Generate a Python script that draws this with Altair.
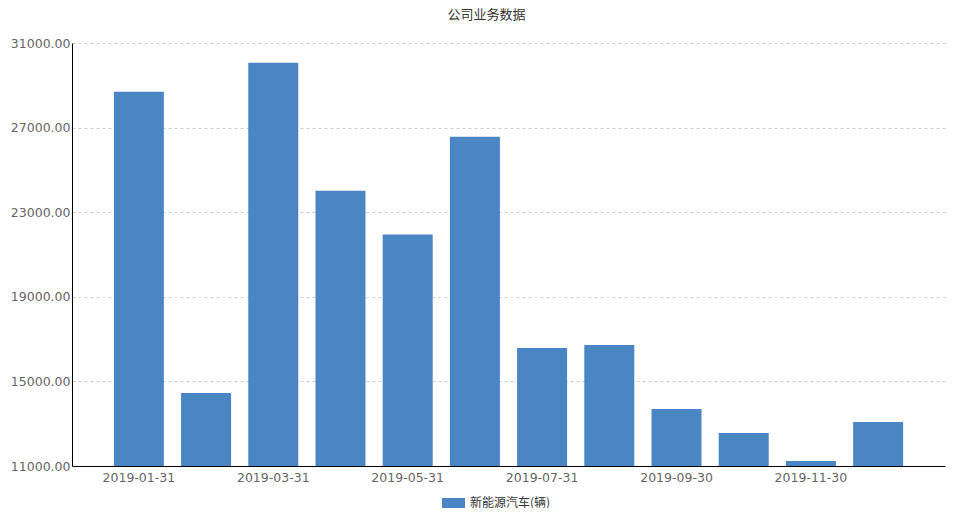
import altair as alt
import pandas as pd

months = ["2019-01-31", "2019-02-28", "2019-03-31", "2019-04-30", "2019-05-31", "2019-06-30",
          "2019-07-31", "2019-08-31", "2019-09-30", "2019-10-31", "2019-11-30", "2019-12-31"]
values = [28700, 14450, 30070, 24020, 21940, 26570, 16580, 16720, 13700, 12560, 11240, 13080]
series_name = "新能源汽车(辆)"
shown_labels = ["2019-01-31", "2019-03-31", "2019-05-31", "2019-07-31", "2019-09-30", "2019-11-30"]
y_ticks = [11000, 15000, 19000, 23000, 27000, 31000]

df = pd.DataFrame({"date": months, "value": values, "series": [series_name] * len(months)})

chart = alt.Chart(df).mark_bar(color="#4a86c4").encode(
    x=alt.X("date:N", sort=months, title=None,
            scale=alt.Scale(paddingInner=0.256, paddingOuter=0.623),
            axis=alt.Axis(values=shown_labels, labelAngle=0, ticks=False, grid=False,
                          domainColor="#000000", domainWidth=1, labelColor="#666666",
                          labelFont="DejaVu Sans", labelFontSize=12.5, labelPadding=5)),
    y=alt.Y("value:Q", title=None,
            scale=alt.Scale(domain=[11000, 31000], zero=False, nice=False),
            axis=alt.Axis(values=y_ticks, format=".2f", ticks=False, grid=True,
                          gridColor="#cccccc", gridDash=[3, 3], gridWidth=1,
                          domainColor="#000000", domainWidth=1, labelColor="#666666",
                          labelFont="DejaVu Sans", labelFontSize=12.5, labelPadding=2)),
    y2=alt.datum(11000),
    color=alt.Color("series:N", scale=alt.Scale(range=["#4a86c4"]),
                    legend=alt.Legend(title=None, orient="none", legendX=371.5, legendY=450,
                                      symbolType="M-1.15,-0.5L1.15,-0.5L1.15,0.5L-1.15,0.5Z",
                                      symbolSize=400, symbolStrokeWidth=0, symbolOpacity=1,
                                      labelFont="Noto Sans CJK SC", labelFontSize=12,
                                      labelColor="#333333", labelOffset=6.5)),
).properties(
    width=873,
    height=423,
    title=alt.TitleParams("公司业务数据", anchor="middle", frame="group", dx=-22, offset=15,
                          font="Noto Sans CJK SC", fontSize=13, fontWeight="normal", color="#333333"),
    autosize=alt.AutoSizeParams(type="none"),
    padding={"left": 64, "top": 35, "right": 19, "bottom": 42},
).configure_view(stroke=None)

chart.save("out.html", embed_options={"renderer": "svg", "actions": False})
